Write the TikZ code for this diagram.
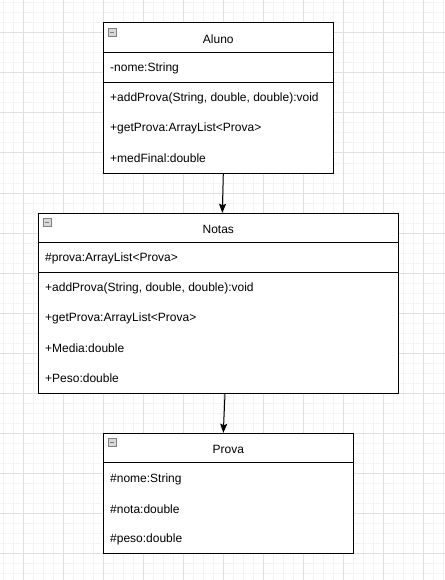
\documentclass[tikz,border=0pt]{standalone}
\usepackage{fontspec}
\setmainfont{Liberation Sans}
\usetikzlibrary{arrows.meta}
\definecolor{minorgrid}{HTML}{F3F3F3}
\definecolor{majorgrid}{HTML}{E0E0E0}
\definecolor{iconfill}{HTML}{D8D8D8}
\definecolor{iconline}{HTML}{808080}
\begin{document}
\begin{tikzpicture}[x=1bp,y=-1bp,
  every node/.style={font=\fontsize{12bp}{14bp}\selectfont, inner sep=0pt},
  umlbox/.style={draw=black, line width=1bp, rectangle, inner sep=0pt},
  row/.style={anchor=west},
  sep/.style={draw=black, line width=1bp},
  conn/.style={draw=black, line width=1bp, -{Stealth[length=9bp,width=7bp,inset=1.5bp]}},
  minorline/.style={draw=minorgrid, line width=1bp},
  majorline/.style={draw=majorgrid, line width=1bp},
  icon/.style={draw=iconline, fill=iconfill, line width=0.8bp, minimum size=8bp, rectangle}]
\fill[white] (0,0) rectangle (445,580);
\useasboundingbox (0,0) rectangle (445,580);
% grid
\foreach \x in {3,13,...,443} {\draw[minorline] (\x,0) -- (\x,580);}
\foreach \y in {3,13,...,573} {\draw[minorline] (0,\y) -- (445,\y);}
\foreach \x in {23,63,...,443} {\draw[majorline] (\x,0) -- (\x,580);}
\foreach \y in {33,73,...,573} {\draw[majorline] (0,\y) -- (445,\y);}

% Aluno
\node[umlbox, fill=white, minimum width=230bp, minimum height=150bp] (aluno) at (218.3,98) {};
\draw[sep] (aluno.north west) ++(0,30) -- ++(230,0);
\draw[sep] (aluno.north west) ++(0,60) -- ++(230,0);
\node[icon] (alunoicon) at (112.5,32.5) {};
\draw[iconline, line width=0.8bp] (alunoicon.west) ++(2,0) -- ++(4,0);
\node (alunotitle) at (218.3,39) {Aluno};
\node[row] (a1) at (110,68.3) {-nome:String};
\node[row] (a2) at (110,98.3) {+addProva(String, double, double):void};
\node[row] (a3) at (110,128.3) {+getProva:ArrayList<Prova>};
\node[row] (a4) at (110,158.3) {+medFinal:double};

% Notas
\node[umlbox, fill=white, minimum width=360bp, minimum height=180bp] (notas) at (218.3,303.3) {};
\draw[sep] (notas.north west) ++(0,30) -- ++(360,0);
\draw[sep] (notas.north west) ++(0,60) -- ++(360,0);
\node[icon] (notasicon) at (47.5,222.5) {};
\draw[iconline, line width=0.8bp] (notasicon.west) ++(2,0) -- ++(4,0);
\node (notastitle) at (218.3,229) {Notas};
\node[row] (n1) at (45,258.3) {\#prova:ArrayList<Prova>};
\node[row] (n2) at (45,288.3) {+addProva(String, double, double):void};
\node[row] (n3) at (45,318.3) {+getProva:ArrayList<Prova>};
\node[row] (n4) at (45,348.3) {+Media:double};
\node[row] (n5) at (45,378.3) {+Peso:double};

% Prova
\node[umlbox, fill=white, minimum width=250bp, minimum height=120bp] (prova) at (228.3,493.3) {};
\draw[sep] (prova.north west) ++(0,30) -- ++(250,0);
\node[icon] (provaicon) at (112.5,442.5) {};
\draw[iconline, line width=0.8bp] (provaicon.west) ++(2,0) -- ++(4,0);
\node (provatitle) at (228.3,449) {Prova};
\node[row] (p1) at (110,479) {\#nome:String};
\node[row] (p2) at (110,509) {\#nota:double};
\node[row] (p3) at (110,539) {\#peso:double};

% connectors
\draw[conn] ([xshift=5bp]aluno.south) -- ([xshift=4bp]notas.north);
\draw[conn] ([xshift=6.7bp]notas.south) -- ([xshift=-5bp]prova.north);
\end{tikzpicture}
\end{document}
